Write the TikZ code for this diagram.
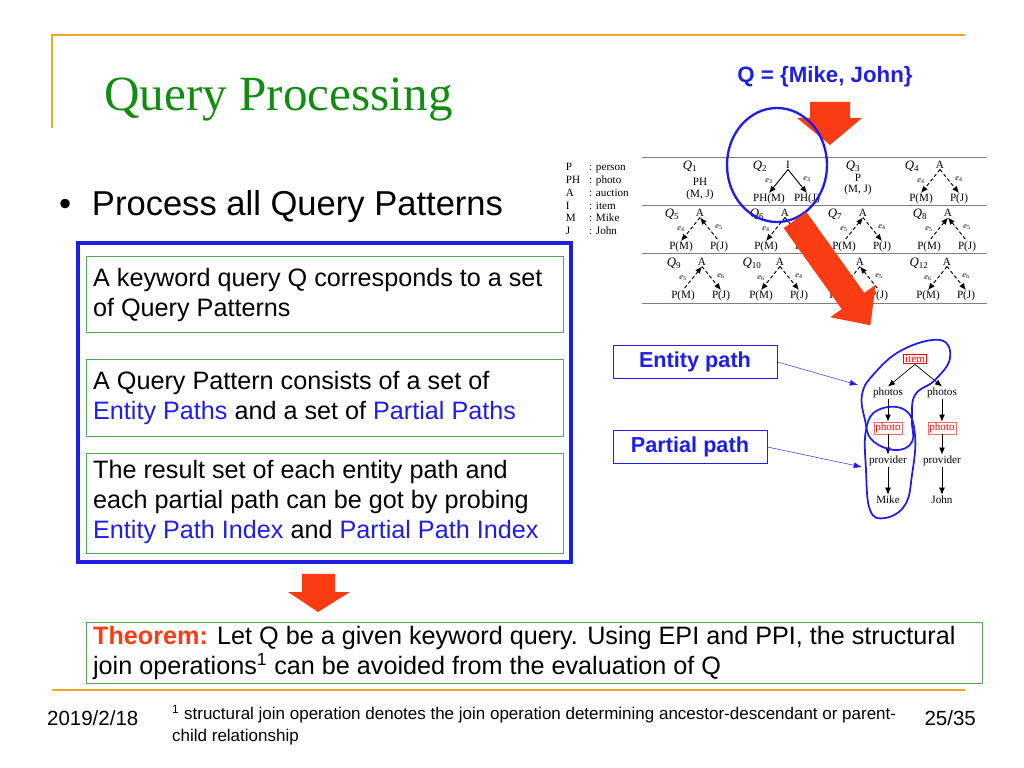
\documentclass[tikz,border=0pt]{standalone}
\usepackage{fontspec}
\setmainfont{Liberation Serif}
\setsansfont{Liberation Sans}
\usetikzlibrary{arrows.meta}
\definecolor{slideorange}{RGB}{240,165,40}
\definecolor{boxgreen}{RGB}{80,170,80}
\definecolor{titlegreen}{RGB}{20,140,20}
\definecolor{hotred}{RGB}{250,60,20}
\definecolor{textblue}{RGB}{30,30,230}
\begin{document}
\begin{tikzpicture}[x=0.03cm,y=-0.03cm]
	\tikzstyle{bodytext}=[anchor=north west,align=left,font=\sffamily\fontsize{21.5}{25.5}\selectfont]
	\tikzstyle{pathbox}=[draw=textblue,thick,fill=white,font=\sffamily\bfseries\fontsize{18.5}{20}\selectfont,text=textblue]
	\tikzstyle{tnode}=[font=\fontsize{9.5}{10}\selectfont,inner sep=1pt]
	\tikzstyle{qtext}=[font=\fontsize{9.5}{10}\selectfont,inner sep=0.5pt]
	\tikzstyle{qlab}=[font=\itshape\fontsize{11}{11}\selectfont,inner sep=0.5pt]
	\tikzstyle{elab}=[font=\itshape\fontsize{7}{8}\selectfont,inner sep=0.3pt]
	\tikzstyle{sdn}=[-{Latex[length=6pt,width=5pt]},thick]
	\tikzstyle{pdn}=[-{Latex[length=6pt,width=5pt]},thick,densely dashed]
	\tikzstyle{pup}=[{Latex[length=6pt,width=5pt]}-,thick,densely dashed]
	\tikzstyle{treearrow}=[-{Latex[length=6pt,width=5pt]},semithick]
	\tikzstyle{blockarrow}=[fill=hotred,draw=none]
	\useasboundingbox (0,0) rectangle (1024,768);
	% slide frame
	\draw [slideorange,line width=2.5pt] (52,128) -- (52,35) -- (965,35);
	\draw [slideorange,line width=2pt] (52,690) -- (965,690);
	\node [anchor=west,text=titlegreen,font=\fontsize{42}{44}\selectfont] (title) at (100,100) {Query Processing};
	\node [anchor=west,font=\sffamily\fontsize{29.5}{32}\selectfont] (bullet) at (55,207) {\textbullet\hspace{0.6em}Process all Query Patterns};
	% left boxes
	\draw [textblue,line width=3pt] (78,243) rectangle (571,562);
	\draw [boxgreen,thick] (86,256) rectangle (563,332);
	\draw [boxgreen,thick] (86,359) rectangle (563,436);
	\draw [boxgreen,thick] (86,453) rectangle (563,553);
	\node [bodytext] (box1) at (89,264) {A keyword query Q corresponds to a set\\of Query Patterns};
	\node [bodytext] (box2) at (89,367) {A Query Pattern consists of a set of\\\textcolor{textblue}{Entity Paths} and a set of \textcolor{textblue}{Partial Paths}};
	\node [bodytext] (box3) at (89,456) {The result set of each entity path and\\each partial path can be got by probing\\\textcolor{textblue}{Entity Path Index} and \textcolor{textblue}{Partial Path Index}};
	% down arrow to theorem
	\fill [blockarrow] (302,574) -- (335,574) -- (335,592) -- (350,592) -- (318,612) -- (288,592) -- (302,592) -- cycle;
	\draw [boxgreen,thick] (86,622) rectangle (982,683);
	\node [bodytext] (theorem) at (89,622) {\textcolor{hotred}{\bfseries Theorem:} Let Q be a given keyword query. Using EPI and PPI, the structural\\join operations\textsuperscript{1} can be avoided from the evaluation of Q};
	% footer
	\node [anchor=west,font=\sffamily\fontsize{17.5}{20}\selectfont] (date) at (43,718) {2019/2/18};
	\node [anchor=east,font=\sffamily\fontsize{17.5}{20}\selectfont] (page) at (980,718) {25/35};
	\node [anchor=north west,align=left,inner sep=0pt,font=\sffamily\fontsize{14.5}{19}\selectfont] (note) at (172,705) {\textsuperscript{1} structural join operation denotes the join operation determining ancestor-descendant or parent-\\child relationship};
	% query and arrow
	\node [font=\sffamily\bfseries\fontsize{19}{20}\selectfont,text=textblue] (query) at (825,77) {Q = \{Mike, John\}};
	\fill [blockarrow] (810,102) -- (850,102) -- (850,118) -- (862,118) -- (830,145) -- (797,118) -- (810,118) -- cycle;
	% legend
	\foreach \k/\v [count=\i] in {P/person,PH/photo,A/auction,I/item,M/Mike,J/John}
		\node [anchor=west,qtext] (leg\i) at (565,156+12.4*\i) {\makebox[2.1em][l]{\k}: \v};
	% table
	\foreach \yy in {157,205,253,303}
		\draw [gray,semithick] (642,\yy) -- (987,\yy);
	\node [qlab] (q1) at (690,166) {Q\textsubscript{\upshape 1}};
	\node [qtext] (q1a) at (700,182) {PH};
	\node [qtext] (q1b) at (700,195) {(M, J)};
	\node [qlab] (q3) at (853,166) {Q\textsubscript{\upshape 3}};
	\node [qtext] (q3a) at (858,178) {P};
	\node [qtext] (q3b) at (858,190) {(M, J)};
	\foreach \n/\x/\y/\r/\cl/\cr/\el/\er/\sl/\sr in {
		2/788/165/I/PH(M)/PH(J)/3/3/sdn/sdn,
		4/940/165/A/P(M)/P(J)/4/4/pdn/pdn,
		5/700/213/A/P(M)/P(J)/4/5/pdn/pup,
		6/785/213/A/P(M)/P(J)/4/6/pdn/pdn,
		7/863/213/A/P(M)/P(J)/5/4/pup/pdn,
		8/948/213/A/P(M)/P(J)/5/5/pup/pup,
		9/702/262/A/P(M)/P(J)/5/6/pup/pdn,
		10/780/262/A/P(M)/P(J)/6/4/pdn/pdn,
		11/860/262/A/P(M)/P(J)/4/5/pdn/pup,
		12/947/262/A/P(M)/P(J)/6/6/pdn/pdn} {
		\node [qtext] (r\n) at (\x,\y) {\r};
		\node [qtext] (l\n) at (\x-19,\y+34) {\cl};
		\node [qtext] (c\n) at (\x+19,\y+34) {\cr};
		\node [qlab] (q\n) at (\x-28,\y+1) {Q\textsubscript{\upshape\n}};
		\node [elab] (el\n) at (\x-19,\y+16) {e\textsubscript{\upshape\el}};
		\node [elab] (er\n) at (\x+19,\y+14) {e\textsubscript{\upshape\er}};
		\draw [\sl] (r\n.south) -- (l\n.north);
		\draw [\sr] (r\n.south) -- (c\n.north);
	}
	\draw [textblue,line width=2pt] (777,165) ellipse (50 and 57);
	% diagonal arrow
	\fill [blockarrow] (783.7,228.1) -- (806.3,211.9) -- (864.3,292.9) -- (875.7,284.8) -- (870.4,325.3) -- (830.3,317.2) -- (841.7,309.1) -- cycle;
	% tree
	\node [tnode,draw=red,thick,text=red] (item) at (915,359) {item};
	\node [tnode] (ph1) at (888,393) {photos};
	\node [tnode] (ph2) at (942,393) {photos};
	\node [tnode,draw=red!60,text=red] (pt1) at (888,428) {photo};
	\node [tnode,draw=red!60,text=red] (pt2) at (942,428) {photo};
	\node [tnode] (pr1) at (888,461) {provider};
	\node [tnode] (pr2) at (942,461) {provider};
	\node [tnode] (mike) at (888,500) {Mike};
	\node [tnode] (john) at (942,500) {John};
	\draw [treearrow] (item.south) -- (ph1.north);
	\draw [treearrow] (item.south) -- (ph2.north);
	\foreach \a/\b in {ph1/pt1,pt1/pr1,pr1/mike,ph2/pt2,pt2/pr2,pr2/john}
		\draw [treearrow] (\a) -- (\b);
	% lassos
	\draw [textblue,line width=1.5pt] plot [smooth cycle,tension=0.7] coordinates {(902,350) (940,340) (950,358) (935,380) (915,395) (912,420) (912,442) (895,450) (872,440) (865,420) (862,395) (873,375)};
	\draw [textblue,line width=1.5pt] plot [smooth cycle,tension=0.7] coordinates {(878,410) (905,410) (915,435) (912,475) (905,505) (885,518) (870,510) (866,470) (866,430)};
	% path labels
	\node [pathbox,minimum width=164*0.03cm,minimum height=33*0.03cm] (entity) at (695,362) {Entity path};
	\node [pathbox,minimum width=154*0.03cm,minimum height=33*0.03cm] (partial) at (690,447) {Partial path};
	\coordinate (entityend) at (858,385);
	\coordinate (partialend) at (862,467);
	\draw [textblue,-{Latex[length=7pt,width=5pt]}] (entity.east) -- (entityend);
	\draw [textblue,-{Latex[length=7pt,width=5pt]}] (partial.east) -- (partialend);
\end{tikzpicture}
\end{document}
